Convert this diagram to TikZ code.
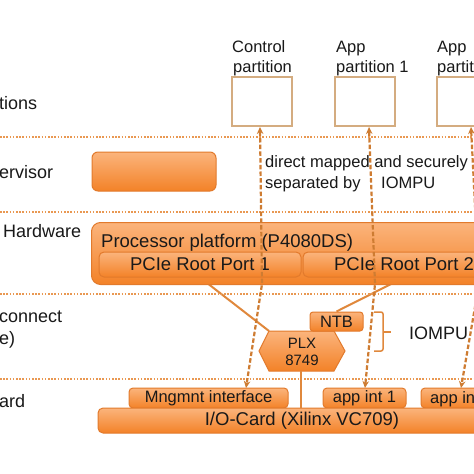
\documentclass[tikz,border=0pt]{standalone}
\usepackage{fontspec}
\setmainfont{Liberation Sans}
\usetikzlibrary{arrows.meta,backgrounds}
\definecolor{sepC}{RGB}{233,152,82}
\definecolor{lineC}{RGB}{224,136,60}
\definecolor{dashC}{RGB}{206,124,50}
\definecolor{bordC}{RGB}{226,122,44}
\definecolor{topC}{RGB}{251,180,124}
\definecolor{botC}{RGB}{243,130,40}
\definecolor{tanC}{RGB}{212,172,128}
\definecolor{txtC}{RGB}{25,25,25}
\begin{document}
\begin{tikzpicture}[x=1pt,y=-1pt,
  sepline/.style={draw=sepC,line width=1.8pt,dash pattern=on 1.6pt off 1.6pt},
  obox/.style={draw=bordC,line width=1pt,top color=topC,bottom color=botC,rounded corners=5pt,inner sep=0pt,text=txtC},
  pbox/.style={draw=tanC,line width=1.2pt,fill=white,inner sep=0pt,minimum width=60pt,minimum height=49pt},
  conn/.style={draw=lineC,line width=2pt},
  darrow/.style={draw=dashC,line width=2.2pt,dash pattern=on 4.5pt off 2.2pt,{Stealth[length=7pt,width=6.5pt]}-{Stealth[length=7pt,width=6.5pt]}},
  lbl/.style={anchor=base west,inner sep=0pt,text=txtC,font=\fontsize{18}{20}\selectfont},
  sm/.style={font=\fontsize{16.5}{19}\selectfont},
  big/.style={font=\fontsize{18.5}{20}\selectfont},
]
\useasboundingbox (0,0) rectangle (474,474);
\clip (0,0) rectangle (474,474);
\begin{pgfonlayer}{background}
\fill[white] (0,0) rectangle (474,474);
\end{pgfonlayer}

% separators
\draw[sepline] (0,137) -- (474,137);
\draw[sepline] (0,212) -- (474,212);
\draw[sepline] (0,294) -- (474,294);
\draw[sepline] (0,379) -- (474,379);

% left labels
\node[lbl] (l1) at (-1,109) {tions};
\node[lbl] (l2) at (-1,178) {ervisor};
\node[lbl] (l3) at (3,237) {Hardware};
\node[lbl] (l4) at (-1,322) {connect};
\node[lbl] (l5) at (-1,344) {e)};
\node[lbl] (l6) at (-1,407) {ard};

% partitions
\node[pbox] (ctrl) at (262,101.5) {};
\node[pbox] (app1) at (365,101.5) {};
\node[pbox] (app2) at (467,101.5) {};
\node[lbl,sm] (ctrlA) at (232,52) {Control};
\node[lbl,sm] (ctrlB) at (233,72) {partition};
\node[lbl,sm] (app1A) at (336,52) {App};
\node[lbl,sm] (app1B) at (336,72) {partition 1};
\node[lbl,sm] (app2A) at (437,52) {App};
\node[lbl,sm] (app2B) at (437,72) {partit};

% hypervisor
\node[obox,rounded corners=6pt,minimum width=124pt,minimum height=39pt] (hyp) at (154,171.5) {};

\node[lbl,sm] (dm1) at (265,167) {direct mapped and securely};
\node[lbl,sm] (dm2) at (265,188) {separated by};
\node[lbl,sm] (dm3) at (381,188) {IOMPU};

% processor platform
\node[obox,rounded corners=9pt,minimum width=440pt,minimum height=62pt,anchor=north west] (proc) at (91,222) {};
\node[lbl,big] (proct) at (101,247) {Processor platform (P4080DS)};
\node[obox,rounded corners=5pt,minimum width=202pt,minimum height=25pt,big] (rp1) at (200,264.5) {PCIe Root Port 1};
\node[obox,rounded corners=5pt,minimum width=202pt,minimum height=25pt,big] (rp2) at (404,264.5) {PCIe Root Port 2};

% PLX hexagon
\coordinate (hw) at (259,351);
\coordinate (hnw) at (269,331);
\coordinate (hne) at (334,331);
\coordinate (he) at (345,351);
\coordinate (hse) at (334,371);
\coordinate (hsw) at (269,371);
\coordinate (hs) at (301,371);
\path[draw=bordC,line width=1pt,top color=topC,bottom color=botC] (hw)--(hnw)--(hne)--(he)--(hse)--(hsw)--cycle;
\node[align=center,font=\fontsize{15}{17}\selectfont,inner sep=0pt,text=txtC] (plx) at (302,351.5) {PLX\\8749};

\node[obox,rounded corners=3pt,minimum width=53pt,minimum height=19pt,sm] (ntb) at (336.5,321.5) {NTB};

% brace and IOMPU
\draw[draw=lineC,line width=1.5pt,rounded corners=2pt] (374,312) -- (383,312) -- (383,351) -- (374,351);
\draw[draw=lineC,line width=1.5pt] (383,332) -- (391,332);
\node[lbl] (iompu) at (409,339) {IOMPU};

% I/O board
\node[obox,rounded corners=4pt,minimum width=159pt,minimum height=20pt,sm] (mng) at (208.5,398) {Mngmnt interface};
\node[obox,rounded corners=4pt,minimum width=83pt,minimum height=20pt,sm] (ai1) at (364.5,398) {app int 1};
\node[obox,rounded corners=4pt,minimum width=83pt,minimum height=20pt] (ai2) at (462.5,398) {};
\node[lbl,sm] (ai2t) at (430,403) {app in};
\node[obox,rounded corners=5pt,minimum width=408pt,minimum height=25pt,big] (io) at (302,420.5) {I/O-Card (Xilinx VC709)};

% connectors
\begin{pgfonlayer}{background}
\draw[conn] (rp1.south) -- (hnw);
\draw[conn] (rp2.south) -- (ntb.north);
\end{pgfonlayer}
\draw[conn] (hs) -- (hs |- io.north);

% dashed mappings
\coordinate (d1a) at (260,127);
\coordinate (d1b) at (262,284);
\coordinate (d1c) at (246,388);
\coordinate (d2a) at (369,127);
\coordinate (d2b) at (375,284);
\coordinate (d2c) at (365,388);
\coordinate (d3a) at (471,127);
\coordinate (d3b) at (479,284);
\coordinate (d3c) at (461,388);
\draw[darrow] (d1a) -- (d1b) -- (d1c);
\draw[darrow] (d2a) -- (d2b) -- (d2c);
\draw[darrow] (d3a) -- (d3b) -- (d3c);
\end{tikzpicture}
\end{document}
